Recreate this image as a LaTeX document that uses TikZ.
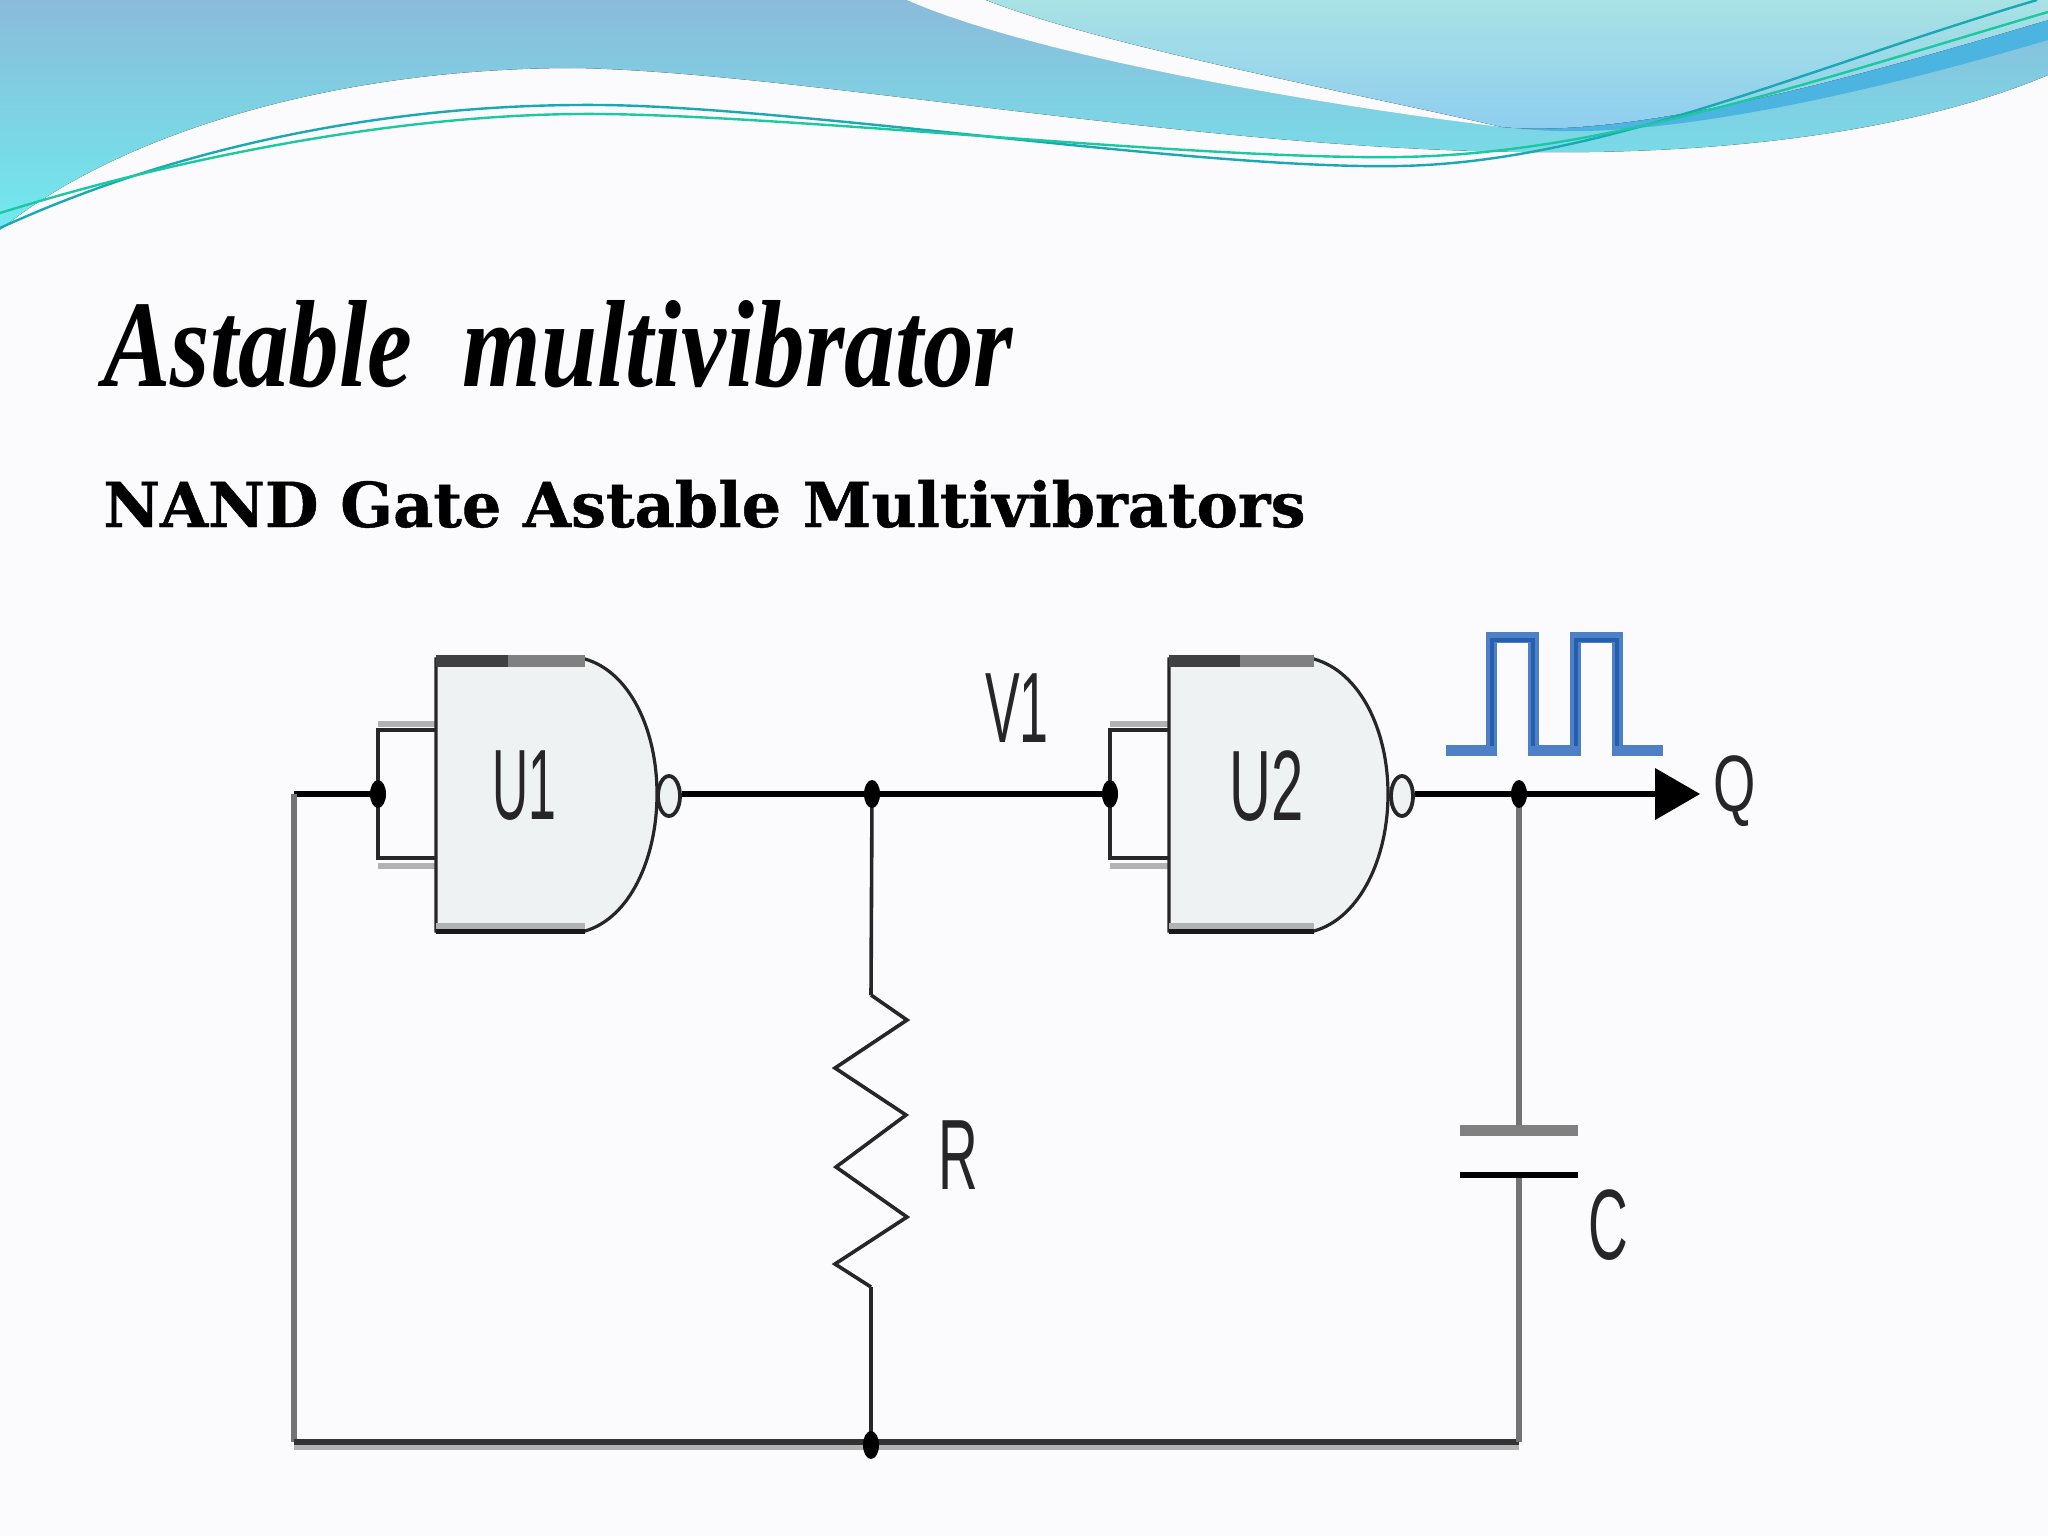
\documentclass[tikz,border=0pt]{standalone}
\usepackage{fontspec}
\setmainfont{Liberation Sans}
\newfontfamily\titlefont{Liberation Serif}
\newfontfamily\subfont{DejaVu Serif}[BoldFeatures={FakeBold=0.7}]
\usetikzlibrary{shapes.geometric,arrows.meta,calc}
\definecolor{pagebg}{HTML}{FBFBFD}
\definecolor{gatefill}{HTML}{EFF2F2}
\definecolor{pulseblue}{HTML}{4F80C6}
\definecolor{pulsedark}{HTML}{2560B0}
\definecolor{tealline}{HTML}{1AA8B4}
\definecolor{greenline}{HTML}{1CC8A0}
\definecolor{bandblue}{HTML}{4CB4E0}
\definecolor{wavetop}{HTML}{8BBBDA}
\definecolor{wavebot}{HTML}{70EAEE}
\definecolor{lighttop}{HTML}{A8E2E4}
\definecolor{lightbot}{HTML}{8CCCF0}
\tikzset{
  wire/.style={line width=3pt,black},
  thinwire/.style={line width=1.8pt,black!85},
  graywire/.style={line width=3pt,black!55},
  halo/.style={line width=3pt,black!30},
  dot/.style={shape=ellipse,fill=black,inner sep=0pt,minimum width=8pt,minimum height=14pt},
  gatebody/.style={fill=gatefill,draw=black!85,line width=1.6pt},
  bubble/.style={shape=ellipse,draw=black!85,fill=gatefill,line width=1.9pt,inner sep=0pt,minimum width=11pt,minimum height=20pt},
  lab/.style={transform shape,inner sep=0pt,black!85,font=\fontsize{50}{50}\selectfont},
}
\begin{document}
\begin{tikzpicture}[x=.5pt,y=-.5pt]
\useasboundingbox (0,0) rectangle (2048,1536);
\fill[pagebg] (0,0) rectangle (2048,1536);
% top wave
\fill[top color=wavetop,bottom color=wavebot] (0,230) .. controls (110,140) and (320,68) .. (575,68) .. controls (800,72) and (1200,150) .. (1530,152) .. controls (1750,155) and (1930,125) .. (2048,75) -- (2048,0) -- (0,0) -- cycle;
\fill[pagebg] (907,0) .. controls (1020,50) and (1280,100) .. (1502,127) .. controls (1340,90) and (1100,45) .. (986,0) -- cycle;
\fill[bandblue] (1515,128) .. controls (1650,145) and (1880,90) .. (2048,40) -- (2048,15) -- cycle;
\fill[top color=lighttop,bottom color=lightbot] (986,0) .. controls (1100,45) and (1340,90) .. (1502,127) .. controls (1640,140) and (1880,70) .. (2048,20) -- (2048,0) -- cycle;
\draw[tealline,line width=1.2pt] (0,228) .. controls (170,150) and (380,103) .. (601,105) .. controls (800,107) and (1200,170) .. (1400,166) .. controls (1600,162) and (1800,70) .. (2037,0);
\draw[greenline,line width=1.2pt] (0,213) .. controls (170,160) and (400,112) .. (601,114) .. controls (800,116) and (1200,160) .. (1400,157) .. controls (1600,154) and (1800,85) .. (2048,12);
% titles
\node[anchor=base west,inner sep=0pt,transform shape,xscale=.815,font=\titlefont\bfseries\itshape\fontsize{62}{62}\selectfont] (title) at (103,386) {Astable\ \ multivibrator};
\node[anchor=base west,inner sep=0pt,transform shape,font=\subfont\bfseries\fontsize{31}{31}\selectfont] (subtitle) at (103,527) {NAND Gate Astable Multivibrators};
% named points
\coordinate (leftin) at (294,794);
\coordinate (leftbot) at (294,1442);
\coordinate (rbot) at (871,1442);
\coordinate (cbot) at (1519,1442);
\coordinate (rtop) at (871,995);
\coordinate (rend) at (871,1287);
\coordinate (ctop) at (1519,1130);
\coordinate (cbotplate) at (1519,1175);
\coordinate (tip) at (1700,794);
% wires under shapes
\draw[wire] (leftin) -- (378,794);
\draw[graywire] (leftin) -- (leftbot);
\draw[halo] (294,1447) -- (1519,1447);
\draw[line width=3pt,black!80] (leftbot) -- (cbot);
\draw[graywire] (1519,794) -- (ctop);
\draw[graywire] (cbotplate) -- (cbot);
\draw[thinwire] (872,794) -- (rtop);
\draw[thinwire] (rend) -- (rbot);
\draw[thinwire,line join=miter] (rtop) -- (907,1020) -- (835,1068) -- (906,1115) -- (836,1167) -- (907,1217) -- (835,1264) -- (rend);
% capacitor
\draw[line width=5.5pt,black!50] (1460,1130) -- (1578,1130);
\draw[line width=3.2pt,black] (1460,1175) -- (1578,1175);
% input brackets U1
\draw[halo] (378,724) -- (436,724);
\draw[halo] (378,866) -- (436,866);
\draw[line width=2.2pt,black!85] (436,730) -- (378,730) -- (378,858) -- (436,858);
% input brackets U2
\draw[halo] (1110,724) -- (1169,724);
\draw[halo] (1110,866) -- (1169,866);
\draw[line width=2.2pt,black!85] (1169,730) -- (1110,730) -- (1110,858) -- (1169,858);
% gates
\path[gatebody] (436,659) -- (585,659) .. controls (630,672) and (657,730) .. (657,794) .. controls (657,858) and (630,918) .. (585,931) -- (436,931) -- cycle;
\fill[black!75] (436,655) rectangle (508,667);
\fill[black!50] (508,655) rectangle (585,667);
\fill[black!30] (436,923) rectangle (585,929);
\fill[black!90] (436,929) rectangle (585,934);
\path[gatebody] (1169,659) -- (1314,659) .. controls (1360,672) and (1388,730) .. (1388,794) .. controls (1388,858) and (1360,918) .. (1314,931) -- (1169,931) -- cycle;
\fill[black!75] (1169,655) rectangle (1240,667);
\fill[black!50] (1240,655) rectangle (1314,667);
\fill[black!30] (1169,923) rectangle (1314,929);
\fill[black!90] (1169,929) rectangle (1314,934);
\node[bubble] (b1) at (669,796) {};
\node[bubble] (b2) at (1402,796) {};
% main signal wires
\draw[wire] (b1.east |- leftin) -- (1111,794);
\draw[wire] (b2.east |- leftin) -- (1655,794);
\fill[black] (1655,768) -- (1700,794) -- (1655,820) -- cycle;
% junctions
\node[dot] (j1) at (378,794) {};
\node[dot] (j2) at (872,794) {};
\node[dot] (j3) at (1110,794) {};
\node[dot] (j4) at (1519,794) {};
\node[dot] (j5) at (871,1445) {};
% pulse
\draw[line width=5.5pt,pulseblue,line join=miter] (1446,750) -- (1491,750) -- (1491,637) -- (1533,637) -- (1533,750) -- (1575,750) -- (1575,637) -- (1617,637) -- (1617,750) -- (1663,750);
\draw[line width=2.2pt,pulsedark,line join=miter] (1492,746) -- (1492,640) -- (1533,640) -- (1533,746);
\draw[line width=2.2pt,pulsedark,line join=miter] (1576,746) -- (1576,640) -- (1617,640) -- (1617,746);
% labels
\node[lab,xscale=.50,anchor=center] (U1) at (524,786) {U1};
\node[lab,xscale=.58,anchor=center] (U2) at (1267,786) {U2};
\node[lab,xscale=.52,anchor=center] (V1) at (1017,708) {V1};
\node[lab,xscale=.55,anchor=center] (R) at (958,1155) {R};
\node[lab,xscale=.55,anchor=center] (C) at (1608,1225) {C};
\node[lab,xscale=.68,anchor=center,font=\fontsize{40}{40}\selectfont] (Q) at (1735,791) {Q};
\end{tikzpicture}
\end{document}
